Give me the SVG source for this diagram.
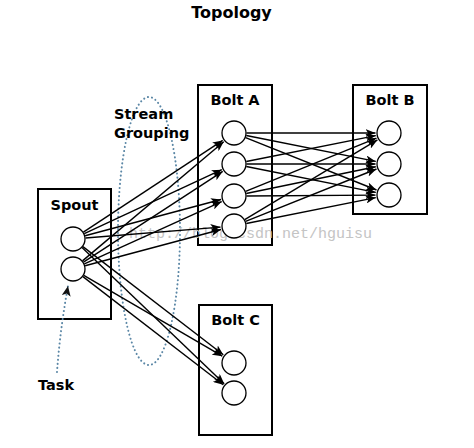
<svg xmlns="http://www.w3.org/2000/svg" width="474" height="448" viewBox="0 0 474 448">
<style>
.box{fill:none;stroke:#000;stroke-width:2}
.tk{fill:#fff;stroke:#000;stroke-width:1.3}
.lbl{font-family:"DejaVu Sans","Liberation Sans",sans-serif;font-weight:bold;font-size:14.5px;fill:#000}
.ttl{font-family:"DejaVu Sans","Liberation Sans",sans-serif;font-weight:bold;font-size:16px;fill:#000}
.wm{font-family:"Liberation Mono","DejaVu Sans Mono",monospace;font-size:15px;fill:#c4c4c4}
#connectors line{stroke:#000;stroke-width:1.4;marker-end:url(#ah)}
.dot{fill:none;stroke:#5b87a6;stroke-width:2;stroke-dasharray:0.1 4;stroke-linecap:round}
</style>
<defs>
<marker id="ah" markerUnits="userSpaceOnUse" markerWidth="11" markerHeight="8" refX="10" refY="4" orient="auto">
<path d="M0,0 L10,4 L0,8 L2.5,4 z" fill="#000"/>
</marker>
<marker id="ah2" markerUnits="userSpaceOnUse" markerWidth="11" markerHeight="10" refX="10" refY="4.5" orient="auto">
<path d="M0,0 L10,4.5 L0,9 L2.5,4.5 z" fill="#111"/>
</marker>
</defs>
<rect width="474" height="448" fill="#fff"/>
<text class="ttl" x="231.5" y="18" text-anchor="middle">Topology</text>

<g id="stream-grouping">
<ellipse class="dot" cx="149" cy="231" rx="31" ry="134"/>
<text class="lbl" x="114" y="119">Stream</text>
<text class="lbl" x="114" y="138">Grouping</text>
</g>

<g id="spout">
<rect class="box" x="38" y="189" width="73" height="130"/>
<text class="lbl" x="74.5" y="210" text-anchor="middle">Spout</text>
</g>
<g id="bolt-a">
<rect class="box" x="198" y="85" width="74" height="160"/>
<text class="lbl" x="235" y="105" text-anchor="middle">Bolt A</text>
</g>
<g id="bolt-b">
<rect class="box" x="353" y="85" width="74" height="129"/>
<text class="lbl" x="390" y="105" text-anchor="middle">Bolt B</text>
</g>
<g id="bolt-c">
<rect class="box" x="199" y="305" width="73" height="130"/>
<text class="lbl" x="235.5" y="325" text-anchor="middle">Bolt C</text>
</g>

<text class="wm" x="372" y="238" text-anchor="end">http://blog.csdn.net/hguisu</text>

<g id="connectors">
<line x1="83.4" y1="232.1" x2="222.7" y2="140.4"/>
<line x1="84.3" y1="233.7" x2="221.8" y2="169.7"/>
<line x1="85.1" y1="235.8" x2="221" y2="199.5"/>
<line x1="85.5" y1="238" x2="220.5" y2="227.1"/>
<line x1="82.5" y1="260.9" x2="223.7" y2="141.7"/>
<line x1="83.5" y1="262.2" x2="222.7" y2="171.4"/>
<line x1="84.4" y1="263.8" x2="221.7" y2="201.6"/>
<line x1="85.1" y1="265.8" x2="221" y2="229.5"/>
<line x1="82.9" y1="246.6" x2="223.3" y2="354.8"/>
<line x1="82" y1="247.6" x2="224.2" y2="383.7"/>
<line x1="83.8" y1="275.3" x2="222.3" y2="356.2"/>
<line x1="82.9" y1="276.6" x2="223.3" y2="384.8"/>
<line x1="246.5" y1="133" x2="375.5" y2="133"/>
<line x1="246.3" y1="135.5" x2="375.8" y2="161.4"/>
<line x1="245.6" y1="137.6" x2="376.5" y2="190"/>
<line x1="246.3" y1="161.5" x2="375.8" y2="135.6"/>
<line x1="246.5" y1="164" x2="375.5" y2="164"/>
<line x1="246.3" y1="166.5" x2="375.8" y2="192.4"/>
<line x1="245.6" y1="191.3" x2="376.5" y2="138.1"/>
<line x1="246.2" y1="193.5" x2="375.8" y2="166.7"/>
<line x1="246.5" y1="196" x2="375.5" y2="195.1"/>
<line x1="244.7" y1="219.6" x2="377.4" y2="139.9"/>
<line x1="245.6" y1="221.4" x2="376.5" y2="169"/>
<line x1="246.3" y1="223.5" x2="375.8" y2="197.6"/>
<path class="dot" d="M57,372 Q60,330 68,286" marker-end="url(#ah2)"/>
</g>

<g id="spout-tasks">
<circle class="tk" cx="73" cy="239" r="12"/>
<circle class="tk" cx="73" cy="269" r="12"/>
</g>
<g id="bolt-a-tasks">
<circle class="tk" cx="234" cy="133" r="12"/>
<circle class="tk" cx="234" cy="164" r="12"/>
<circle class="tk" cx="234" cy="196" r="12"/>
<circle class="tk" cx="234" cy="226" r="12"/>
</g>
<g id="bolt-b-tasks">
<circle class="tk" cx="389" cy="133" r="12"/>
<circle class="tk" cx="389" cy="164" r="12"/>
<circle class="tk" cx="389" cy="195" r="12"/>
</g>
<g id="bolt-c-tasks">
<circle class="tk" cx="234" cy="363" r="12"/>
<circle class="tk" cx="234" cy="393" r="12"/>
</g>

<g id="task-label">
<text class="lbl" x="38" y="390">Task</text>
</g>
</svg>
